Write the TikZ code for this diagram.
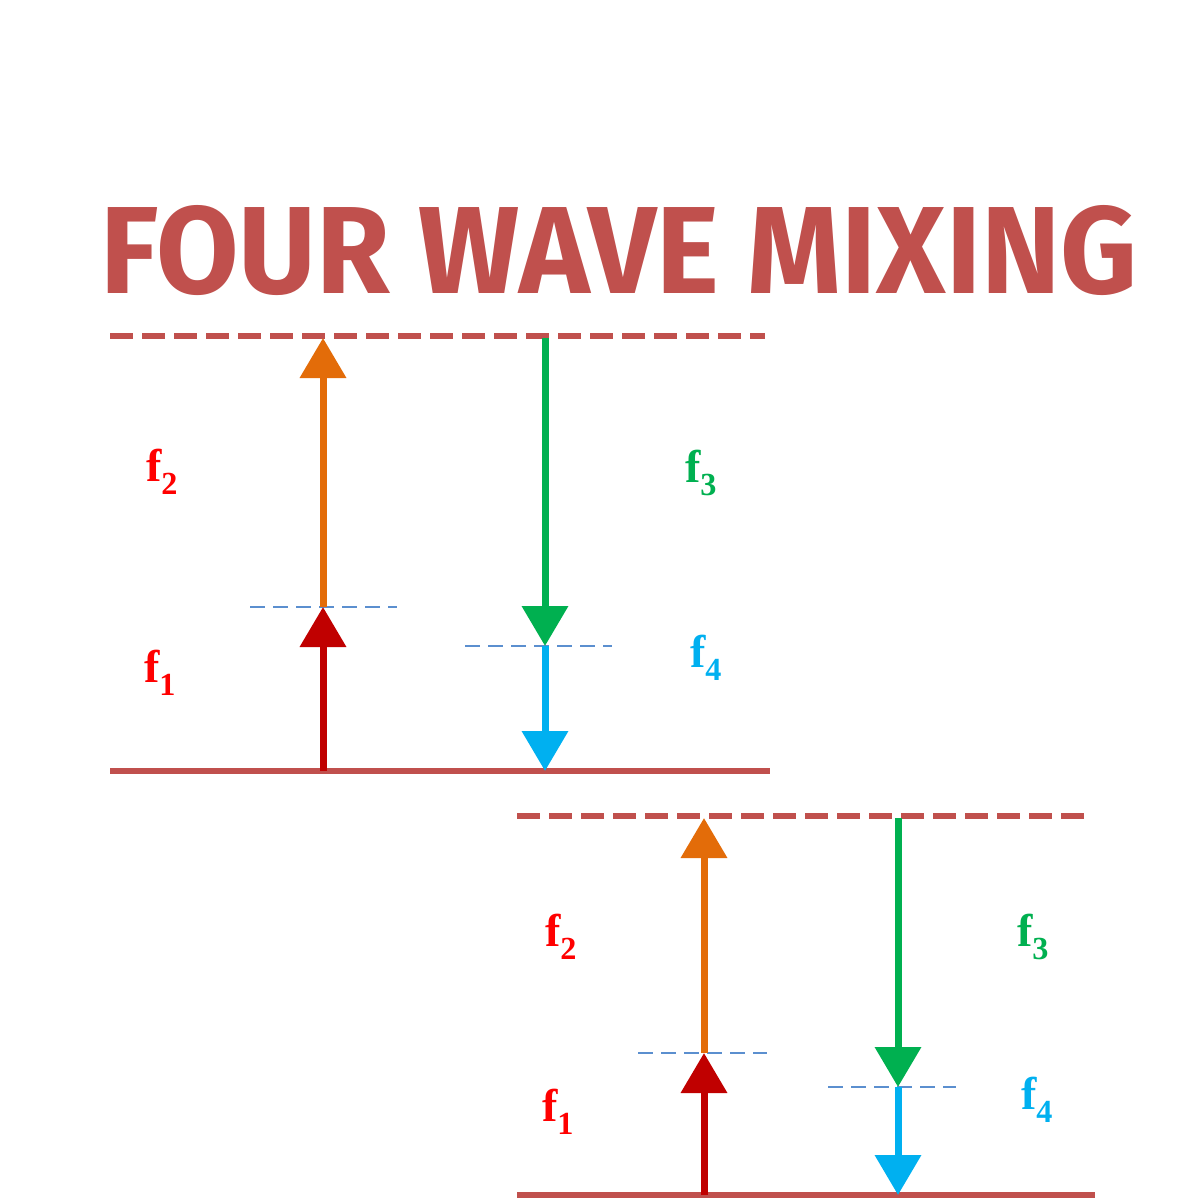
\documentclass[tikz,border=0pt]{standalone}
\usepackage{fontspec}
\setmainfont{Liberation Serif}
\newfontfamily\titlefont{Fira Sans}
\usetikzlibrary{arrows.meta}
\definecolor{brick}{HTML}{C0504D}
\definecolor{orng}{HTML}{E36C09}
\definecolor{dred}{HTML}{C00000}
\definecolor{grn}{HTML}{00B050}
\definecolor{cyn}{HTML}{00B0F0}
\definecolor{lblue}{HTML}{5B8FCF}
\definecolor{lred}{HTML}{FF0000}
\tikzset{
  virt/.style={brick, line width=6pt, dash pattern=on 23pt off 9pt},
  ground/.style={brick, line width=6pt},
  inter/.style={lblue, line width=2pt, dash pattern=on 15pt off 8pt},
  photon/.style={line width=7pt, -{Triangle[length=40pt,width=45pt]}},
  flabel/.style={font=\fontsize{46}{46}\selectfont\bfseries, inner sep=0pt},
}
\begin{document}
\begin{tikzpicture}[x=1pt,y=-1pt]
\useasboundingbox[fill=white] (0,0) rectangle (1200,1200);
\node[anchor=north west, inner sep=0pt, text=brick] (title) at (100,205)
  {\resizebox{1037pt}{88pt}{\titlefont\bfseries FOUR WAVE MIXING}};

% ---- top diagram ----
\coordinate (t1l) at (110,336); \coordinate (t1r) at (765,336);
\coordinate (g1l) at (110,771); \coordinate (g1r) at (770,771);
\coordinate (i1l) at (250,607); \coordinate (i1r) at (397,607);
\coordinate (j1l) at (465,646); \coordinate (j1r) at (612,646);
\coordinate (a1g) at (323,771); \coordinate (a1m) at (323,607); \coordinate (a1t) at (323,338);
\coordinate (b1t) at (545,338); \coordinate (b1m) at (545,646); \coordinate (b1g) at (545,771);
\draw[virt] (t1l) -- (t1r);
\draw[ground] (g1l) -- (g1r);
\draw[inter] (i1l) -- (i1r);
\draw[inter] (j1l) -- (j1r);
\draw[photon, orng] (a1m) -- (a1t);
\draw[photon, dred] (a1g) -- (a1m);
\draw[photon, grn] (b1t) -- (b1m);
\draw[photon, cyn] (b1m) -- (b1g);
\node[flabel, text=lred] (f2a) at (162,472) {f\textsubscript{2}};
\node[flabel, text=grn] (f3a) at (701,473) {f\textsubscript{3}};
\node[flabel, text=lred] (f1a) at (160,673) {f\textsubscript{1}};
\node[flabel, text=cyn] (f4a) at (706,658) {f\textsubscript{4}};

% ---- bottom diagram ----
\coordinate (t2l) at (517,816); \coordinate (t2r) at (1090,816);
\coordinate (g2l) at (517,1195); \coordinate (g2r) at (1095,1195);
\coordinate (i2l) at (638,1053); \coordinate (i2r) at (767,1053);
\coordinate (j2l) at (828,1087); \coordinate (j2r) at (956,1087);
\coordinate (a2g) at (704,1195); \coordinate (a2m) at (704,1053); \coordinate (a2t) at (704,818);
\coordinate (b2t) at (898,818); \coordinate (b2m) at (898,1087); \coordinate (b2g) at (898,1195);
\draw[virt] (t2l) -- (t2r);
\draw[ground] (g2l) -- (g2r);
\draw[inter] (i2l) -- (i2r);
\draw[inter] (j2l) -- (j2r);
\draw[photon, orng] (a2m) -- (a2t);
\draw[photon, dred] (a2g) -- (a2m);
\draw[photon, grn] (b2t) -- (b2m);
\draw[photon, cyn] (b2m) -- (b2g);
\node[flabel, text=lred] (f2b) at (561,937) {f\textsubscript{2}};
\node[flabel, text=grn] (f3b) at (1033,937) {f\textsubscript{3}};
\node[flabel, text=lred] (f1b) at (558,1112) {f\textsubscript{1}};
\node[flabel, text=cyn] (f4b) at (1037,1100) {f\textsubscript{4}};
\end{tikzpicture}
\end{document}
